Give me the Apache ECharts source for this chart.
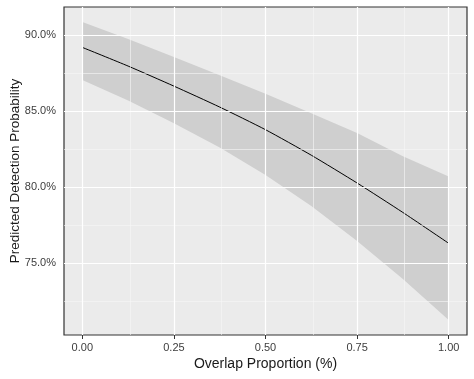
<!DOCTYPE html>
<html>
<head>
<meta charset="utf-8">
<script src="https://cdn.jsdelivr.net/npm/echarts@6/dist/echarts.min.js"></script>
<style>
html,body{margin:0;padding:0;background:#fff;}
#chart{width:474px;height:379px;}
</style>
</head>
<body>
<div id="chart"></div>
<script>
const xValues = [0, 0.125, 0.25, 0.375, 0.5, 0.625, 0.75, 0.875, 1];
const fitValues = [89.2, 87.97, 86.65, 85.27, 83.78, 82.1, 80.27, 78.33, 76.3];
const upperValues = [90.88, 89.76, 88.57, 87.36, 86.15, 84.87, 83.57, 82.03, 80.7];
const lowerValues = [87.05, 85.7, 84.2, 82.6, 80.8, 78.75, 76.45, 73.95, 71.25];
const xTicks = [0, 0.25, 0.5, 0.75, 1];
const xMinorTicks = [0.125, 0.375, 0.625, 0.875];
const yTicks = [75, 80, 85, 90];
const yMinorTicks = [72.5, 77.5, 82.5, 87.5];
const xTitle = 'Overlap Proportion (%)';
const yTitle = 'Predicted Detection Probability';

const FONT = '"Liberation Sans", Arial, sans-serif';
const chart = echarts.init(document.getElementById('chart'), null, {renderer: 'canvas'});

const gridLines = [];
xMinorTicks.forEach(v => gridLines.push({xAxis: v, lineStyle: {color: '#F7F7F7', width: 0.6, type: 'solid'}}));
yMinorTicks.forEach(v => gridLines.push({yAxis: v, lineStyle: {color: '#F7F7F7', width: 0.6, type: 'solid'}}));
xTicks.forEach(v => gridLines.push({xAxis: v, lineStyle: {color: '#FFFFFF', width: 1.2, type: 'solid'}}));
yTicks.forEach(v => gridLines.push({yAxis: v, lineStyle: {color: '#FFFFFF', width: 1.2, type: 'solid'}}));

chart.setOption({
  animation: false,
  backgroundColor: '#ffffff',
  grid: {
    left: 64, right: 7, top: 7, bottom: 44,
    containLabel: false, outerBoundsMode: 'none',
    show: true, backgroundColor: '#EBEBEB', borderColor: '#333333', borderWidth: 1.2
  },
  xAxis: {
    type: 'value', min: -0.05, max: 1.05,
    name: xTitle, nameLocation: 'middle', nameGap: 22, nameMoveOverlap: false,
    nameTextStyle: {fontFamily: FONT, fontSize: 14, color: '#1A1A1A'},
    axisLine: {show: false},
    axisTick: {show: true, customValues: xTicks, length: 4, lineStyle: {color: '#333333', width: 1}},
    axisLabel: {customValues: xTicks, margin: 7, fontFamily: FONT, fontSize: 11, color: '#3D3D3D',
      formatter: v => v.toFixed(2)},
    splitLine: {show: false}
  },
  yAxis: {
    type: 'value', min: 70.26, max: 91.86,
    name: yTitle, nameLocation: 'middle', nameGap: 42, nameRotate: 90, nameMoveOverlap: false,
    nameTextStyle: {fontFamily: FONT, fontSize: 13.5, color: '#1A1A1A'},
    axisLine: {show: false},
    axisTick: {show: true, customValues: yTicks, length: 4, lineStyle: {color: '#333333', width: 1}},
    axisLabel: {customValues: yTicks, margin: 8, fontFamily: FONT, fontSize: 11, color: '#3D3D3D',
      formatter: v => v.toFixed(1) + '%'},
    splitLine: {show: false}
  },
  series: [
    {
      type: 'line', data: [], z: 1, silent: true,
      markLine: {silent: true, symbol: ['none', 'none'], label: {show: false}, animation: false, data: gridLines}
    },
    {
      type: 'custom', z: 2, silent: true,
      data: xValues.map((x, i) => [x, lowerValues[i], upperValues[i]]),
      encode: {x: 0, y: [1, 2]},
      renderItem: function (params, api) {
        if (params.dataIndex !== 0) return;
        const pts = [];
        for (let i = 0; i < xValues.length; i++) pts.push(api.coord([xValues[i], upperValues[i]]));
        for (let i = xValues.length - 1; i >= 0; i--) pts.push(api.coord([xValues[i], lowerValues[i]]));
        return {type: 'polygon', shape: {points: pts, smooth: 0}, style: {fill: '#CFCFCF'}};
      }
    },
    {
      type: 'line', z: 3, silent: true, symbol: 'none', smooth: 0.2,
      data: xValues.map((x, i) => [x, fitValues[i]]),
      lineStyle: {color: '#000000', width: 1}
    }
  ]
});
</script>
</body>
</html>
